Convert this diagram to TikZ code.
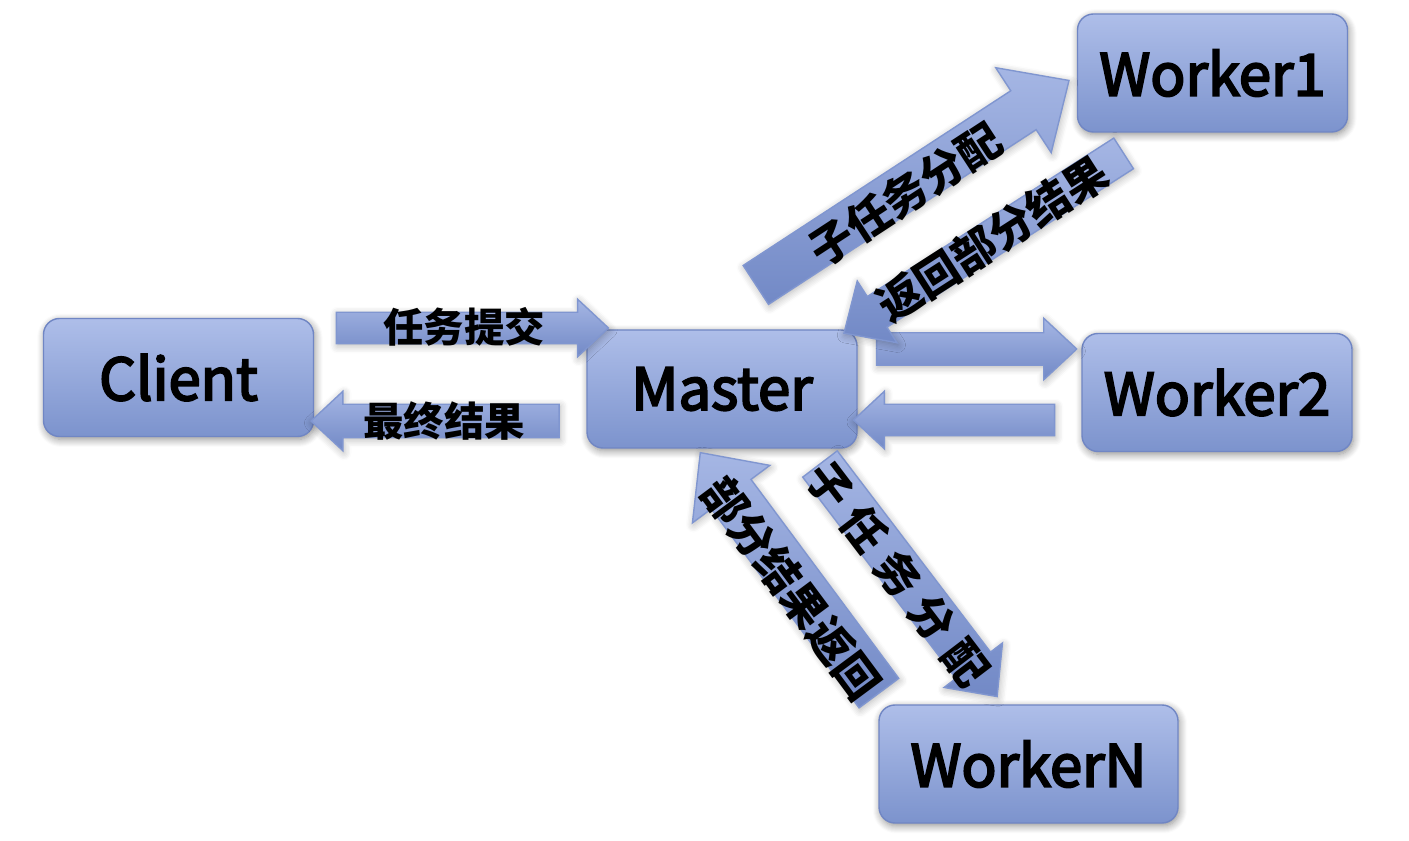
\documentclass[tikz,border=0pt]{standalone}
\usepackage{fontspec}
\setmainfont{Noto Sans CJK SC}
\newfontfamily\boxfont{Noto Sans CJK SC}[FakeBold=3.5]
\usepackage{tikz}
\usetikzlibrary{arrows.meta,positioning,calc,shapes.arrows,shadows.blur}
\definecolor{boxtop}{RGB}{174,190,233}
\definecolor{boxbot}{RGB}{124,147,205}
\definecolor{boxline}{RGB}{112,134,196}
\definecolor{arrtop}{RGB}{165,182,228}
\definecolor{arrbot}{RGB}{114,137,198}
\definecolor{arrline}{RGB}{128,150,208}

\begin{document}
\begin{tikzpicture}[
  box/.style={draw=boxline,rounded corners=0.16cm,top color=boxtop,bottom color=boxbot,minimum width=2.7cm,minimum height=1.18cm,font=\boxfont\fontsize{16.5}{18}\selectfont,blur shadow={shadow blur steps=8,shadow xshift=0.4pt,shadow yshift=-0.8pt,shadow opacity=45}},
  fatarrow/.style={single arrow,draw=arrline,top color=arrtop,bottom color=arrbot,single arrow tip angle=86,single arrow head extend=0.13cm,inner xsep=0pt,inner ysep=0pt,text depth=0pt,font=\fontsize{11.5}{12}\selectfont\bfseries,blur shadow={shadow blur steps=6,shadow xshift=0.3pt,shadow yshift=-0.6pt,shadow opacity=30}},
  fatback/.style={fatarrow,shape border rotate=180}]
  \useasboundingbox (0,0) rectangle (14.09,8.40);
  % Boxes
  \node[box] (client) at (1.785,4.625) {Client};
  \node[box] (master) at (7.22,4.51) {Master};
  \node[box] (worker1) at (12.125,7.67) {Worker1};
  \node[box] (worker2) at (12.17,4.475) {Worker2};
  \node[box,minimum width=2.99cm] (workerN) at (10.285,0.76) {WorkerN};
  % Arrow ends
  \coordinate (submit0) at (3.28,5.12);   \coordinate (submit1) at (6.00,5.12);
  \coordinate (final0) at (5.68,4.19);    \coordinate (final1) at (3.20,4.19);
  \coordinate (toW2a) at (8.68,4.91);     \coordinate (toW2b) at (10.68,4.91);
  \coordinate (fromW2a) at (10.63,4.20);  \coordinate (fromW2b) at (8.62,4.20);
  \coordinate (toW1a) at (7.45,5.48);     \coordinate (toW1b) at (10.59,7.53);
  \coordinate (fromW1a) at (11.32,6.92);  \coordinate (fromW1b) at (8.52,5.12);
  \coordinate (fromWNa) at (8.87,1.36);   \coordinate (fromWNb) at (7.08,3.77);
  \coordinate (toWNa) at (8.20,3.76);     \coordinate (toWNb) at (9.83,1.62);
  % Client <-> Master
  \path let \p1=($(submit1)-(submit0)$),\n1={veclen(\x1,\y1)} in
    (submit0) -- (submit1) node[midway,sloped,fatarrow,minimum height=\n1,text height=0.30cm] (submit) {任务提交};
  \path let \p1=($(final1)-(final0)$),\n1={veclen(\x1,\y1)} in
    (final0) -- (final1) node[midway,sloped,fatback,minimum height=\n1,text height=0.32cm] (final) {最终结果};
  % Master <-> Worker2
  \path let \p1=($(toW2b)-(toW2a)$),\n1={veclen(\x1,\y1)} in
    (toW2a) -- (toW2b) node[midway,sloped,fatarrow,minimum height=\n1,text height=0.31cm,single arrow head extend=0.145cm] (toW2) {};
  \path let \p1=($(fromW2b)-(fromW2a)$),\n1={veclen(\x1,\y1)} in
    (fromW2a) -- (fromW2b) node[midway,sloped,fatback,minimum height=\n1,text height=0.30cm] (fromW2) {};
  % Master <-> Worker1
  \path let \p1=($(toW1b)-(toW1a)$),\n1={veclen(\x1,\y1)} in
    (toW1a) -- (toW1b) node[midway,sloped,fatarrow,minimum height=\n1,text height=0.45cm,single arrow head extend=0.275cm,font=\fontsize{12.5}{13}\selectfont\bfseries] (toW1) {子任务分配};
  \path let \p1=($(fromW1b)-(fromW1a)$),\n1={veclen(\x1,\y1)} in
    (fromW1a) -- (fromW1b) node[midway,sloped,fatback,minimum height=\n1,text height=0.35cm,single arrow head extend=0.185cm,font=\fontsize{12.5}{13}\selectfont\bfseries] (fromW1) {返回部分结果};
  % Master <-> WorkerN
  \path let \p1=($(fromWNb)-(fromWNa)$),\n1={veclen(\x1,\y1)} in
    (fromWNa) -- (fromWNb) node[midway,sloped,fatback,minimum height=\n1,text height=0.48cm,single arrow head extend=0.235cm,font=\fontsize{12.5}{13}\selectfont\bfseries] (fromWN) {部分结果返回};
  \path let \p1=($(toWNb)-(toWNa)$),\n1={veclen(\x1,\y1)} in
    (toWNa) -- (toWNb) node[midway,sloped,fatarrow,minimum height=\n1,text height=0.42cm,single arrow head extend=0.15cm,font=\fontsize{12.5}{13}\selectfont\bfseries] (toWN) {子\hspace{0.12cm}任\hspace{0.12cm}务\hspace{0.12cm}分\hspace{0.12cm}配};
\end{tikzpicture}
\end{document}
